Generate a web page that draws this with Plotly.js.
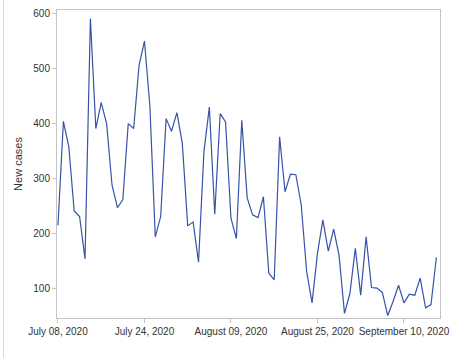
<!DOCTYPE html>
<html>
<head>
<meta charset="utf-8">
<script src="https://cdn.plot.ly/plotly-3.0.1.min.js"></script>
<style>
  html, body { margin: 0; padding: 0; background: #fff; }
  #wrap { position: relative; width: 474px; height: 358px; }
  #edge { position: absolute; left: 3px; top: 0; width: 1px; height: 358px; background: #d9d9d9; }
  #chart { position: absolute; left: 0; top: 0; width: 474px; height: 358px; }
</style>
</head>
<body>
<div id="wrap"><div id="chart"></div><div id="edge"></div></div>
<script>
const startDate = "2020-07-08";
const newCases = [
  214, 403, 357, 240, 230, 153, 590, 390, 437, 399,
  287, 246, 261, 399, 390, 505, 549, 431, 193, 230,
  408, 385, 419, 363, 213, 220, 147, 348, 429, 234,
  417, 402, 227, 190, 405, 264, 233, 228, 266, 127,
  115, 375, 275, 307, 306, 251, 130, 73, 163, 224,
  167, 207, 159, 54, 90, 172, 87, 193, 101, 100,
  92, 50, 76, 105, 73, 89, 87, 118, 64, 70, 156
];
const tickDates = ["2020-07-08", "2020-07-24", "2020-08-09", "2020-08-25", "2020-09-10"];
const tickLabels = ["July 08, 2020", "July 24, 2020", "August 09, 2020", "August 25, 2020", "September 10, 2020"];
const yTicks = [100, 200, 300, 400, 500, 600];

function addDays(s, n) {
  const d = new Date(s + "T00:00:00Z");
  d.setUTCDate(d.getUTCDate() + n);
  return d.toISOString().slice(0, 10);
}
const dates = newCases.map((_, i) => addDays(startDate, i));

const trace = {
  type: "scatter",
  mode: "lines",
  x: dates,
  y: newCases,
  line: { color: "#3553a8", width: 1.2 },
  hoverinfo: "x+y"
};

const layout = {
  width: 474,
  height: 358,
  margin: { l: 57, r: 34, t: 10, b: 40 },
  paper_bgcolor: "#ffffff",
  plot_bgcolor: "#ffffff",
  font: { family: "Liberation Sans, Arial, sans-serif", size: 10, color: "#333333" },
  showlegend: false,
  xaxis: {
    type: "date",
    range: [addDays(startDate, -1) + " 19:40", addDays(startDate, 70) + " 16:00"],
    tickvals: tickDates,
    ticktext: tickLabels,
    tickangle: 0,
    showgrid: false,
    zeroline: false,
    showline: true,
    linecolor: "#c4c4c4",
    linewidth: 1,
    mirror: true,
    ticks: "outside",
    ticklen: 4,
    tickcolor: "#c4c4c4",
    tickfont: { size: 10, color: "#333333" }
  },
  yaxis: {
    range: [45.5, 605.5],
    tickvals: yTicks,
    showgrid: false,
    zeroline: false,
    showline: true,
    linecolor: "#c4c4c4",
    linewidth: 1,
    mirror: true,
    ticks: "outside",
    ticklen: 4,
    tickcolor: "#c4c4c4",
    tickfont: { size: 10, color: "#333333" },
    title: { text: "New cases", font: { size: 11, color: "#333333" }, standoff: 8 }
  }
};

Plotly.newPlot("chart", [trace], layout, { displayModeBar: false, staticPlot: true });
</script>
</body>
</html>
